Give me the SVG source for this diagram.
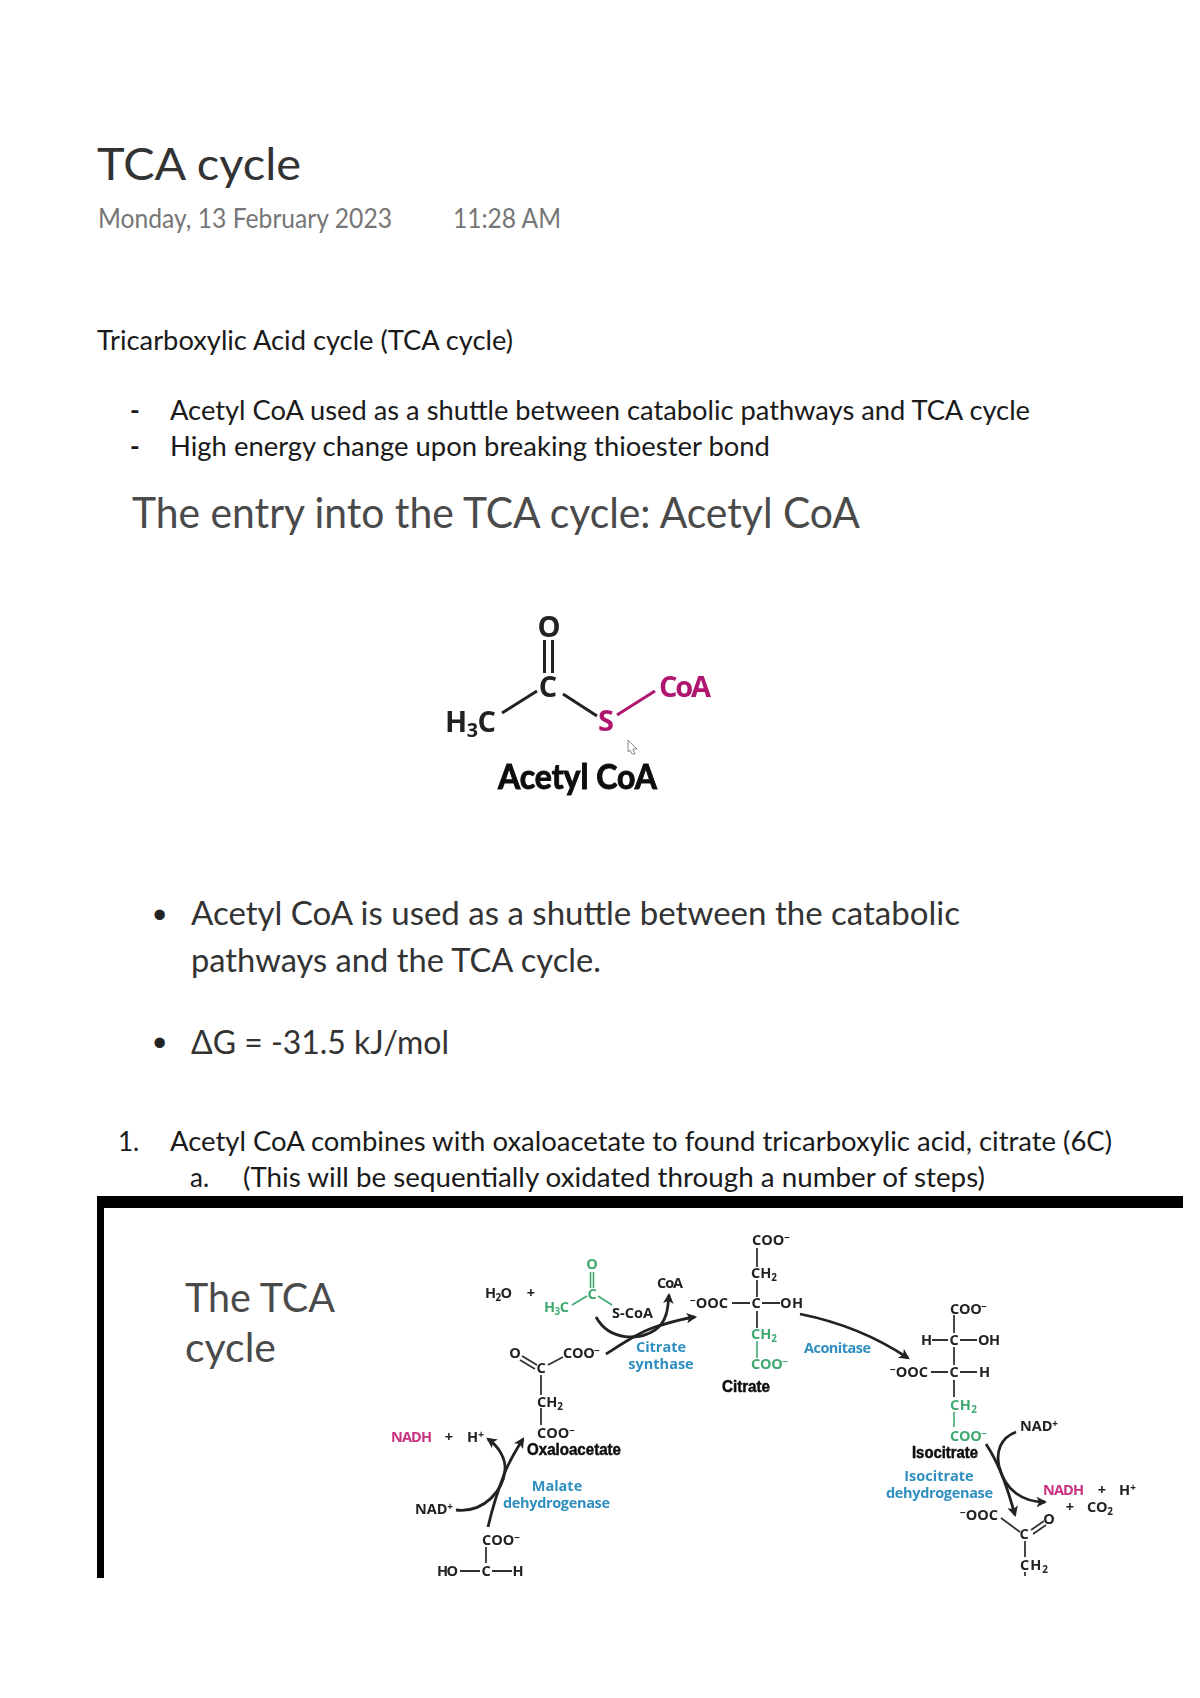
<svg xmlns="http://www.w3.org/2000/svg" width="1200" height="1698" viewBox="0 0 1200 1698">
<style>
text{font-family:"Lato","Open Sans",sans-serif;fill:#111}
.t{font-size:26px;fill:#1a1a1a}
.h{fill:#4a4a4a}
.d{font-size:26px;fill:#767676}
.b{font-size:32px;fill:#333}
.dot{font-family:"Liberation Sans",sans-serif;font-size:38px;fill:#222}
.m{font-family:"Open Sans",sans-serif;font-weight:700;font-size:29px;fill:#222}
.k{fill:#b0186f}
.c{font-family:"Open Sans",sans-serif;font-weight:700;font-size:14.5px;fill:#222}
.g{fill:#3fa86f}
.n{fill:#c8337f}
.e{fill:#2f8fc0}
.x{font-family:"Liberation Sans",sans-serif;font-weight:700;font-size:16px;fill:#111;stroke:#111;stroke-width:.5}
.l{stroke:#333;stroke-width:1.8;fill:none}
.lg{stroke:#3fa86f;stroke-width:1.6;fill:none}
.a{stroke:#222;stroke-width:2.8;fill:none}
.ml{stroke:#222;stroke-width:3;fill:none}
.mk{stroke:#b0186f;stroke-width:3;fill:none}
.s{font-size:.68em}
</style>
<defs>
<marker id="ah" viewBox="0 0 10 10" refX="8" refY="5" markerWidth="3.8" markerHeight="3.8" orient="auto"><path d="M0,0L10,5L0,10L2.5,5Z" fill="#222"/></marker>
<filter id="bl" x="-5%" y="-5%" width="110%" height="110%"><feGaussianBlur stdDeviation="0.45"/></filter>
</defs>
<rect width="1200" height="1698" fill="#fff"/>

<g id="header">
<text x="97" y="180" font-size="45" fill="#333" textLength="204" lengthAdjust="spacingAndGlyphs" style="fill:#333">TCA cycle</text>
<text class="d" x="98" y="228" textLength="294" lengthAdjust="spacingAndGlyphs">Monday, 13 February 2023</text>
<text class="d" x="453" y="228" textLength="108" lengthAdjust="spacingAndGlyphs">11:28 AM</text>
</g>

<g id="notes">
<text class="t" x="97" y="350" textLength="416" lengthAdjust="spacingAndGlyphs">Tricarboxylic Acid cycle (TCA cycle)</text>
<text class="t" x="130" y="420" font-weight="700">-</text>
<text class="t" x="170" y="420" textLength="860" lengthAdjust="spacingAndGlyphs">Acetyl CoA used as a shuttle between catabolic pathways and TCA cycle</text>
<text class="t" x="130" y="456" font-weight="700">-</text>
<text class="t" x="170" y="456" textLength="600" lengthAdjust="spacingAndGlyphs">High energy change upon breaking thioester bond</text>
</g>

<g id="slide-acetyl">
<text class="h" x="132" y="528" font-size="42" textLength="728" lengthAdjust="spacingAndGlyphs">The entry into the TCA cycle: Acetyl CoA</text>
<g id="acetyl-coa" filter="url(#bl)">
<text class="m" x="549" y="637" text-anchor="middle">O</text>
<path class="ml" d="M544.500,640V673M552.500,640V673M502,713L537,691M563,694L597,716"/>
<path class="mk" d="M617,715L655,691"/>
<text class="m" x="548" y="697" text-anchor="middle">C</text>
<text class="m" x="445" y="732" textLength="51">H<tspan class="s" dy="5">3</tspan><tspan dy="-5">C</tspan></text>
<text class="m k" x="606" y="731" text-anchor="middle">S</text>
<text class="m k" x="659" y="697" textLength="52">CoA</text>
<text x="498" y="789" font-family="Liberation Sans,sans-serif" font-weight="700" font-size="35" stroke="#111" stroke-width="1" textLength="159" lengthAdjust="spacingAndGlyphs">Acetyl CoA</text>
<path d="M628,740L637,749L633,749L635,754L632,754L630,750L628,752Z" fill="#fff" stroke="#888"/>
</g>
<text class="dot" x="153" y="928">•</text>
<text class="b" x="191" y="925" textLength="769" lengthAdjust="spacingAndGlyphs">Acetyl CoA is used as a shuttle between the catabolic</text>
<text class="b" x="191" y="972" textLength="410" lengthAdjust="spacingAndGlyphs">pathways and the TCA cycle.</text>
<text class="dot" x="153" y="1056">•</text>
<text class="b" x="191" y="1054" textLength="258" lengthAdjust="spacingAndGlyphs">ΔG = -31.5 kJ/mol</text>
</g>

<g id="list">
<text class="t" x="118" y="1151">1.</text>
<text class="t" x="170" y="1151" textLength="942" lengthAdjust="spacingAndGlyphs">Acetyl CoA combines with oxaloacetate to found tricarboxylic acid, citrate (6C)</text>
<text class="t" x="190" y="1187">a.</text>
<text class="t" x="243" y="1187" textLength="742" lengthAdjust="spacingAndGlyphs">(This will be sequentially oxidated through a number of steps)</text>
</g>

<g id="frame">
<rect x="97" y="1196" width="1086" height="12" fill="#000"/>
<rect x="97" y="1196" width="7" height="382" fill="#000"/>
<text class="h" x="185" y="1312" font-size="41" textLength="150" lengthAdjust="spacingAndGlyphs">The TCA</text>
<text class="h" x="185" y="1362" font-size="41" textLength="91" lengthAdjust="spacingAndGlyphs">cycle</text>
</g>

<g id="connectors" filter="url(#bl)">
<path class="a" marker-end="url(#ah)" d="M596,1317C610,1342 640,1340 655,1330C667,1322 668,1308 669,1295"/>
<path class="a" marker-end="url(#ah)" d="M606,1354C625,1342 640,1332 655,1327C668,1323 680,1319 695,1317"/>
<path class="a" marker-end="url(#ah)" d="M800,1314C840,1322 875,1336 908,1358"/>
<path class="a" marker-end="url(#ah)" d="M456,1510C485,1513 503,1490 505,1470C506,1458 498,1446 488,1439"/>
<path class="a" marker-end="url(#ah)" d="M488,1527C493,1505 500,1485 505,1472C510,1460 516,1450 523,1439"/>
<path class="a" marker-end="url(#ah)" d="M1016,1432C1000,1438 996,1452 999,1466C1005,1490 1022,1502 1045,1502"/>
<path class="a" marker-end="url(#ah)" d="M986,1444C1000,1465 1008,1490 1015,1515"/>
</g>

<g id="acetyl-coa-small" filter="url(#bl)">
<text class="c" x="485" y="1298" textLength="27">H<tspan class="s" dy="3">2</tspan><tspan dy="-3">O</tspan></text>
<text class="c" x="531" y="1298" text-anchor="middle">+</text>
<text class="c g" x="592" y="1269" text-anchor="middle">O</text>
<path class="lg" d="M590.500,1272V1288M593.500,1272V1288M572,1305L587,1296M598,1296L612,1305"/>
<text class="c g" x="592" y="1299" text-anchor="middle">C</text>
<text class="c g" x="544" y="1312" textLength="25">H<tspan class="s" dy="3">3</tspan><tspan dy="-3">C</tspan></text>
<text class="c" x="612" y="1318" textLength="41">S-CoA</text>
<text class="c" x="657" y="1288" textLength="26">CoA</text>
<text class="c e" x="661" y="1352" text-anchor="middle">Citrate</text>
<text class="c e" x="661" y="1369" text-anchor="middle">synthase</text>
</g>

<g id="oxaloacetate" filter="url(#bl)">
<text class="c" x="515" y="1358" text-anchor="middle">O</text>
<path class="l" d="M522,1356L537,1365M520,1360L535,1369M548,1365L563,1357M541,1375V1395M541,1408V1425"/>
<text class="c" x="541" y="1373" text-anchor="middle">C</text>
<text class="c" x="563" y="1358" textLength="37">COO<tspan class="s" dy="-4">−</tspan></text>
<text class="c" x="537" y="1407" textLength="26">CH<tspan class="s" dy="3">2</tspan></text>
<text class="c" x="537" y="1438" textLength="38">COO<tspan class="s" dy="-4">−</tspan></text>
<text class="x" x="527" y="1455" font-size="14.500" textLength="94" lengthAdjust="spacingAndGlyphs">Oxaloacetate</text>
</g>

<g id="malate-step" filter="url(#bl)">
<text class="c n" x="391" y="1442" textLength="41">NADH</text>
<text class="c" x="449" y="1442" text-anchor="middle">+</text>
<text class="c" x="467" y="1442" textLength="17">H<tspan class="s" dy="-4">+</tspan></text>
<text class="c" x="415" y="1514" textLength="38">NAD<tspan class="s" dy="-4">+</tspan></text>
<text class="c e" x="557" y="1491" text-anchor="middle">Malate</text>
<text class="c e" x="503" y="1508" textLength="107">dehydrogenase</text>
</g>

<g id="malate" filter="url(#bl)">
<text class="c" x="482" y="1545" textLength="38">COO<tspan class="s" dy="-4">−</tspan></text>
<path class="l" d="M486,1547V1563M460,1571H480M492,1571H512"/>
<text class="c" x="437" y="1576" textLength="21">HO</text>
<text class="c" x="486" y="1576" text-anchor="middle">C</text>
<text class="c" x="518" y="1576" text-anchor="middle">H</text>
</g>

<g id="citrate" filter="url(#bl)">
<text class="c" x="752" y="1245" textLength="38">COO<tspan class="s" dy="-4">−</tspan></text>
<path class="l" d="M757,1248V1267M757,1280V1297M732,1303H750M762,1303H780M757,1311V1328"/>
<text class="c" x="751" y="1278" textLength="26">CH<tspan class="s" dy="3">2</tspan></text>
<text class="c" x="690" y="1308" textLength="38"><tspan class="s" dy="-4">−</tspan><tspan dy="4">OOC</tspan></text>
<text class="c" x="756" y="1308" text-anchor="middle">C</text>
<text class="c" x="780" y="1308" textLength="23">OH</text>
<text class="c g" x="751" y="1339" textLength="26">CH<tspan class="s" dy="3">2</tspan></text>
<path class="lg" d="M757,1341V1358"/>
<text class="c g" x="751" y="1369" textLength="37">COO<tspan class="s" dy="-4">−</tspan></text>
<text class="x" x="722" y="1392" font-size="14.500" textLength="48" lengthAdjust="spacingAndGlyphs">Citrate</text>
<text class="c e" x="804" y="1353" textLength="67">Aconitase</text>
</g>

<g id="isocitrate" filter="url(#bl)">
<text class="c" x="950" y="1314" textLength="37">COO<tspan class="s" dy="-4">−</tspan></text>
<path class="l" d="M954,1315V1333M932,1340H948M960,1340H977M954,1347V1365M931,1372H948M960,1372H977M954,1380V1397"/>
<text class="c" x="921" y="1345">H</text>
<text class="c" x="954" y="1345" text-anchor="middle">C</text>
<text class="c" x="978" y="1345" textLength="22">OH</text>
<text class="c" x="890" y="1377" textLength="38"><tspan class="s" dy="-4">−</tspan><tspan dy="4">OOC</tspan></text>
<text class="c" x="954" y="1377" text-anchor="middle">C</text>
<text class="c" x="979" y="1377">H</text>
<text class="c g" x="950" y="1410" textLength="27">CH<tspan class="s" dy="3">2</tspan></text>
<path class="lg" d="M954,1412V1427"/>
<text class="c g" x="950" y="1441" textLength="37">COO<tspan class="s" dy="-4">−</tspan></text>
<text class="x" x="912" y="1458" font-size="14.500" textLength="66" lengthAdjust="spacingAndGlyphs">Isocitrate</text>
</g>

<g id="isocitrate-step" filter="url(#bl)">
<text class="c e" x="939" y="1481" text-anchor="middle">Isocitrate</text>
<text class="c e" x="886" y="1498" textLength="107">dehydrogenase</text>
<text class="c" x="1020" y="1431" textLength="38">NAD<tspan class="s" dy="-4">+</tspan></text>
<text class="c n" x="1043" y="1495" textLength="41">NADH</text>
<text class="c" x="1102" y="1495" text-anchor="middle">+</text>
<text class="c" x="1119" y="1495" textLength="17">H<tspan class="s" dy="-4">+</tspan></text>
<text class="c" x="1070" y="1512" text-anchor="middle">+</text>
<text class="c" x="1087" y="1512" textLength="26">CO<tspan class="s" dy="3">2</tspan></text>
</g>

<g id="ketoglutarate" filter="url(#bl)">
<text class="c" x="960" y="1520" textLength="38"><tspan class="s" dy="-4">−</tspan><tspan dy="4">OOC</tspan></text>
<path class="l" d="M1001,1518L1020,1532M1031,1530L1044,1521M1033,1534L1046,1525M1025,1541V1557M1025,1572V1576"/>
<text class="c" x="1024" y="1539" text-anchor="middle">C</text>
<text class="c" x="1049" y="1524" text-anchor="middle">O</text>
<text class="c" x="1020" y="1570" textLength="28">CH<tspan class="s" dy="3">2</tspan></text>
</g>
</svg>
